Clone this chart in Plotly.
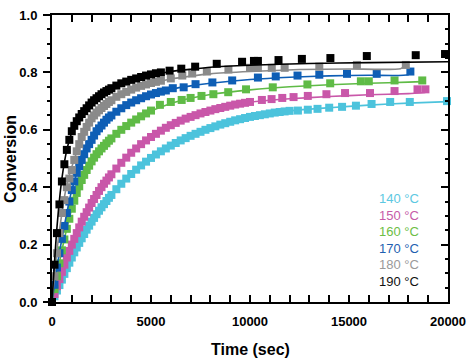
import plotly.graph_objects as go

# ---------------- data ----------------
T_DENSE = [0, 125, 250, 375, 500, 625, 750, 875, 1000, 1125, 1250, 1375, 1500,
           1625, 1750, 1875, 2000, 2125, 2250, 2375, 2500, 2625, 2750, 2875, 3000,
           3250, 3500, 3750, 4000, 4250, 4500, 4750, 5000, 5250, 5500,
           5750, 6000, 6250, 6500, 6750, 7000, 7250, 7500, 7750, 8000, 8250,
           8500, 8750, 9000, 9250, 9500, 9750, 10000, 10250, 10500, 10750,
           11000, 11250, 11500, 11750, 12000]

X_TICKS = [0, 5000, 10000, 15000, 20000]
Y_TICKS = [0.0, 0.2, 0.4, 0.6, 0.8, 1.0]
LABELS = ["140 °C", "150 °C", "160 °C", "170 °C", "180 °C", "190 °C"]

# 140 °C
C140_DENSE = [0, 0.02, 0.04, 0.059, 0.078, 0.098, 0.118, 0.137, 0.155, 0.173, 0.19,
              0.206, 0.222, 0.237, 0.252, 0.266, 0.28, 0.293, 0.306, 0.318, 0.33,
              0.341, 0.352, 0.363, 0.373,
              0.393, 0.412, 0.43, 0.446, 0.461, 0.476, 0.489,
              0.502, 0.514, 0.525, 0.535, 0.545, 0.554, 0.563, 0.571, 0.579, 0.586,
              0.593, 0.60, 0.606, 0.612, 0.618, 0.623, 0.628, 0.633, 0.637, 0.641,
              0.645, 0.648, 0.651, 0.654, 0.657, 0.66, 0.662, 0.664, 0.666]
C140_LATE_T = [12420, 12920, 13410, 14000, 14650, 15350, 16140, 17080, 18070, 19950]
C140_LATE = [0.667, 0.67, 0.673, 0.677, 0.68, 0.684, 0.69, 0.697, 0.697, 0.70]
C140_FIT_T = [0, 500, 1000, 1500, 2000, 3000, 4000, 5000, 6000, 7000, 8000, 9000,
              10000, 12000, 14000, 16000, 18000, 20000]
C140_FIT = [0, 0.078, 0.155, 0.222, 0.28, 0.373, 0.446, 0.502, 0.545, 0.579, 0.606,
            0.628, 0.645, 0.666, 0.677, 0.686, 0.693, 0.698]

# 150 °C
C150_DENSE = [0.0, 0.028, 0.055, 0.08, 0.105, 0.13, 0.155, 0.178, 0.20, 0.22, 0.24,
              0.26, 0.28, 0.297, 0.313, 0.329, 0.345, 0.359, 0.373, 0.387, 0.40,
              0.412, 0.423, 0.434, 0.445,
              0.465, 0.485, 0.503, 0.52, 0.535, 0.55, 0.563,
              0.575, 0.586, 0.597, 0.607, 0.616, 0.624, 0.632, 0.639, 0.645, 0.651,
              0.657, 0.662, 0.667, 0.672, 0.676, 0.68, 0.684, 0.688, 0.691, 0.694,
              0.697]
C150_LATE_T = [10600, 11090, 11630, 12200, 12920, 13860, 14800, 16060, 17300, 18460, 18860]
C150_LATE = [0.704, 0.707, 0.711, 0.714, 0.718, 0.724, 0.728, 0.728, 0.735, 0.741, 0.741]
C150_FIT_T = [0, 500, 1000, 1500, 2000, 3000, 4000, 5000, 6000, 7000, 8000, 9000,
              10000, 12000, 14000, 16000, 18000, 18860]
C150_FIT = [0, 0.105, 0.20, 0.28, 0.345, 0.445, 0.52, 0.575, 0.615, 0.645, 0.666,
            0.683, 0.696, 0.708, 0.716, 0.722, 0.726, 0.73]

# 160 °C
C160_DENSE = [0, 0.045, 0.09, 0.135, 0.18, 0.218, 0.255, 0.29, 0.325, 0.353, 0.38,
              0.403, 0.425, 0.443, 0.46, 0.475, 0.49, 0.503, 0.515, 0.525, 0.535,
              0.544, 0.553, 0.562, 0.57,
              0.586, 0.60, 0.613, 0.625, 0.636, 0.647, 0.657, 0.667]
C160_LATE_T = [5450, 6000, 6550, 7000, 7550, 8150, 8900, 9800, 11150, 12900, 14050,
               15600, 16000, 17300, 18700]
C160_LATE = [0.687, 0.697, 0.704, 0.711, 0.718, 0.724, 0.731, 0.741, 0.748, 0.758,
             0.762, 0.769, 0.769, 0.772, 0.772]
C160_FIT_T = [0, 250, 500, 1000, 1500, 2000, 2500, 3000, 4000, 5000, 6000, 7000, 8000,
              10000, 12000, 14000, 16000, 18000, 18700]
C160_FIT = [0, 0.09, 0.18, 0.325, 0.425, 0.49, 0.535, 0.57, 0.625, 0.665, 0.692, 0.71,
            0.723, 0.739, 0.75, 0.757, 0.762, 0.766, 0.768]

# 170 °C
C170_DENSE = [0.0, 0.06, 0.12, 0.17, 0.22, 0.265, 0.31, 0.35, 0.39, 0.42, 0.45,
              0.473, 0.495, 0.515, 0.535, 0.55, 0.565, 0.58, 0.595, 0.605, 0.615,
              0.625, 0.635, 0.643, 0.65,
              0.663, 0.675, 0.686, 0.695, 0.703, 0.71, 0.717, 0.723,
              0.728, 0.733, 0.737]
C170_LATE_T = [6100, 6650, 7250, 8100, 9100, 10400, 11300, 12400, 13500, 14900, 16400, 18100]
C170_LATE = [0.745, 0.748, 0.759, 0.765, 0.772, 0.782, 0.786, 0.789, 0.792, 0.795,
             0.795, 0.803]
C170_FIT_T = [0, 250, 500, 1000, 1500, 2000, 2500, 3000, 4000, 5000, 6000, 7000, 8000,
              10000, 12000, 14000, 16000, 18000, 18150]
C170_FIT = [0, 0.12, 0.22, 0.39, 0.495, 0.565, 0.615, 0.65, 0.695, 0.723, 0.741, 0.753,
            0.762, 0.775, 0.783, 0.788, 0.79, 0.792, 0.803]

# 180 °C
C180_DENSE = [0.0, 0.09, 0.17, 0.24, 0.31, 0.355, 0.40, 0.43, 0.46, 0.495, 0.525,
              0.55, 0.575, 0.593, 0.61, 0.625, 0.64, 0.65, 0.66, 0.668, 0.676,
              0.683, 0.69, 0.697, 0.703,
              0.715, 0.724, 0.732, 0.74, 0.747, 0.753, 0.758, 0.763,
              0.767, 0.771]
C180_LATE_T = [6000, 6580, 7080, 7820, 8910, 10000, 10400, 11100, 11750, 13500, 15400, 17870]
C180_LATE = [0.779, 0.789, 0.796, 0.803, 0.81, 0.816, 0.816, 0.816, 0.816, 0.82,
             0.826, 0.826]
C180_FIT_T = [0, 250, 500, 750, 1000, 1500, 2000, 2500, 3000, 4000, 5000, 6000, 7000,
              8000, 10000, 12500, 15000, 17600, 17900]
C180_FIT = [0, 0.18, 0.31, 0.41, 0.47, 0.57, 0.635, 0.675, 0.70, 0.738, 0.762, 0.777,
            0.787, 0.795, 0.803, 0.81, 0.812, 0.813, 0.826]

# 190 °C
C190_DENSE = [0.0, 0.13, 0.24, 0.34, 0.42, 0.48, 0.53, 0.565, 0.595, 0.614, 0.63,
              0.643, 0.655, 0.665, 0.675, 0.685, 0.695, 0.703, 0.71, 0.717, 0.724,
              0.73, 0.735, 0.74, 0.745,
              0.754, 0.762, 0.768, 0.774, 0.779, 0.784, 0.789, 0.793,
              0.797, 0.80]
C190_LATE_T = [5940, 6530, 7230, 8320, 9600, 10200, 10400, 11440, 12620, 14060, 15900,
               18370, 19850]
C190_LATE = [0.806, 0.813, 0.82, 0.83, 0.837, 0.84, 0.84, 0.843, 0.847, 0.85, 0.857,
             0.86, 0.864]
C190_FIT_T = [0, 250, 500, 750, 1000, 1500, 2000, 2500, 3000, 4000, 5000, 6000, 7000,
              8000, 10000, 13000, 16000, 20000]
C190_FIT = [0, 0.26, 0.43, 0.53, 0.59, 0.655, 0.695, 0.722, 0.743, 0.772, 0.79, 0.803,
            0.811, 0.818, 0.825, 0.831, 0.834, 0.837]

SERIES = [
    (C140_DENSE, C140_LATE_T, C140_LATE, C140_FIT_T, C140_FIT),
    (C150_DENSE, C150_LATE_T, C150_LATE, C150_FIT_T, C150_FIT),
    (C160_DENSE, C160_LATE_T, C160_LATE, C160_FIT_T, C160_FIT),
    (C170_DENSE, C170_LATE_T, C170_LATE, C170_FIT_T, C170_FIT),
    (C180_DENSE, C180_LATE_T, C180_LATE, C180_FIT_T, C180_FIT),
    (C190_DENSE, C190_LATE_T, C190_LATE, C190_FIT_T, C190_FIT),
]

# ---------------- styling ----------------
MARKER_COLORS = ["#4cc3dc", "#c957a9", "#5fbb46", "#0e5eb5", "#8a8a8a", "#000000"]
TEXT_COLORS = ["#5cc8e2", "#c65ba8", "#6dbe45", "#1f5fb0", "#9a9a9a", "#111111"]
FONT = "Arial, Liberation Sans, sans-serif"

fig = go.Figure()
for (dense, late_t, late, fit_t, fit), mc in zip(SERIES, MARKER_COLORS):
    xs = T_DENSE[:len(dense)] + late_t
    ys = dense + late
    fig.add_trace(go.Scatter(x=fit_t, y=fit, mode="lines", line=dict(color=mc, width=1.6,
                             shape="spline", smoothing=0.6), cliponaxis=False,
                             hoverinfo="skip"))
    fig.add_trace(go.Scatter(x=xs, y=ys, mode="markers",
                             marker=dict(symbol="square", size=8, color=mc, line=dict(width=0)),
                             cliponaxis=False))

axis_common = dict(showgrid=False, zeroline=False, showline=True, linecolor="black",
                   linewidth=2, tickcolor="black", tickwidth=1.5, ticklen=7,
                   tickfont=dict(family=FONT, size=13, color="black", weight="bold"))

fig.update_layout(
    width=474, height=361,
    margin=dict(l=52, r=17, t=8, b=59),
    paper_bgcolor="white", plot_bgcolor="white",
    showlegend=False,
    xaxis=dict(range=[0, 20000], tickmode="array", tickvals=X_TICKS,
               ticktext=[str(v) for v in X_TICKS], ticks="inside",
               mirror="allticks", ticklabelstandoff=6, ticklabeloverflow="allow",
               minor=dict(dtick=1000, tick0=0, ticks="inside", ticklen=3.5, tickwidth=1.5,
                          tickcolor="black"),
               **axis_common),
    yaxis=dict(range=[0, 1], tickmode="array", tickvals=Y_TICKS,
               ticktext=[f"{v:.1f}" for v in Y_TICKS], ticks="outside",
               mirror=True, ticklabelstandoff=3, ticklabeloverflow="allow",
               minor=dict(dtick=0.05, tick0=0, ticks="outside", ticklen=3.5, tickwidth=1.5,
                          tickcolor="black"),
               **axis_common),
    yaxis2=dict(range=[0, 1], tickmode="array", tickvals=Y_TICKS, overlaying="y",
                side="right", anchor="x", ticks="inside", ticklen=7, tickwidth=1.5,
                tickcolor="black", showticklabels=False, showgrid=False, zeroline=False,
                showline=False,
                minor=dict(dtick=0.05, tick0=0, ticks="inside", ticklen=3.5, tickwidth=1.5,
                           tickcolor="black")),
)
fig.add_trace(go.Scatter(x=[], y=[], yaxis="y2", showlegend=False))

# axis titles
fig.add_annotation(text="<b>Conversion</b>", xref="paper", yref="paper", x=-0.105, y=0.5,
                   textangle=-90, showarrow=False, xanchor="center", yanchor="middle",
                   font=dict(family=FONT, size=16, color="black"))
fig.add_annotation(text="<b>Time (sec)</b>", xref="paper", yref="paper", x=0.5, y=-0.167,
                   showarrow=False, xanchor="center", yanchor="middle",
                   font=dict(family=FONT, size=16, color="black"))

# coloured temperature labels
for i, (lab, tc) in enumerate(zip(LABELS, TEXT_COLORS)):
    fig.add_annotation(text=lab, xref="paper", yref="paper", x=0.82, y=0.361 - i * 0.058,
                       showarrow=False, xanchor="left", yanchor="middle",
                       font=dict(family=FONT, size=13, color=tc))

fig.write_html("out.html", config={"displayModeBar": False},
               post_script="document.body.style.margin='0';")
